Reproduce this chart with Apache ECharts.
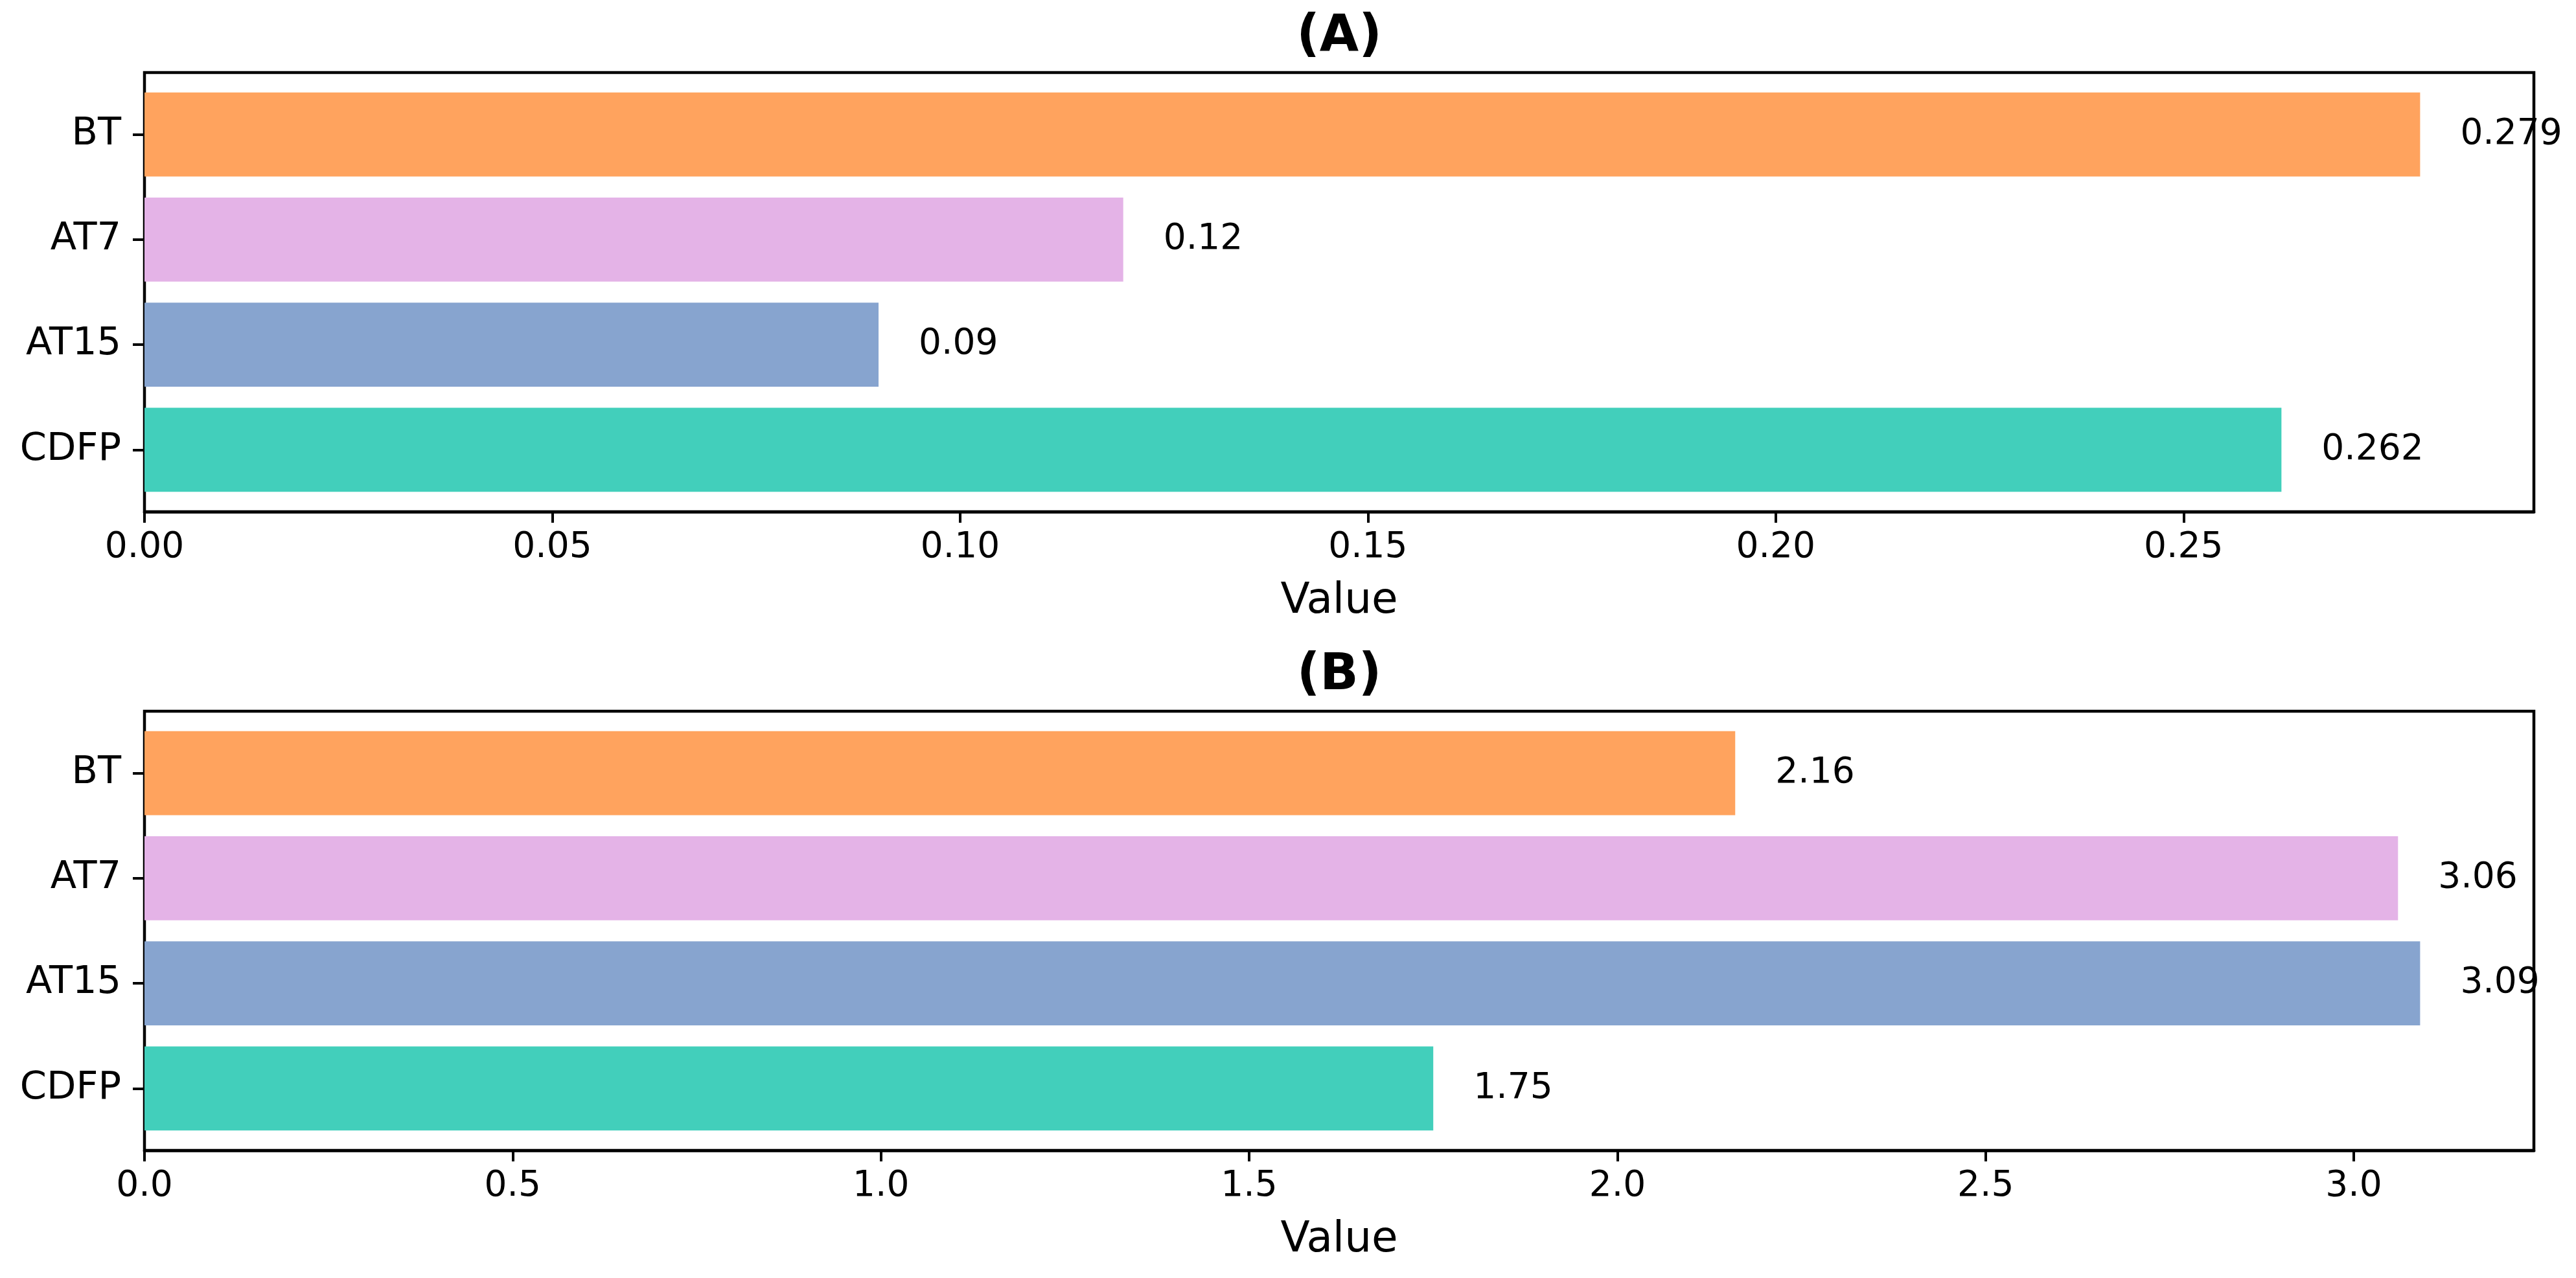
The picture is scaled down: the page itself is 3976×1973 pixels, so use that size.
<!DOCTYPE html>
<html>
<head>
<meta charset="utf-8">
<script src="https://cdn.jsdelivr.net/npm/echarts@6/dist/echarts.min.js"></script>
<style>
html,body{margin:0;padding:0;background:#fff;}
#chart{width:3976px;height:1973px;}
</style>
</head>
<body>
<div id="chart"></div>
<script>
// ---- data ----
const categories = ['BT', 'AT7', 'AT15', 'CDFP'];
const valuesA = [0.279, 0.12, 0.09, 0.262];
const valuesB = [2.16, 3.06, 3.09, 1.75];
const ticksA = [0, 0.05, 0.10, 0.15, 0.20, 0.25];
const ticksB = [0, 0.5, 1.0, 1.5, 2.0, 2.5, 3.0];
const titles = ['(A)', '(B)'];
const colors = ['#FFA35E', '#E4B3E7', '#87A4CF', '#42CFBB'];

// ---- layout ----
const FONT = 'DejaVu Sans';
const L = 223, W = 3688;
const frameH = 678;
const tops = [112, 1098];
const inset = 14.6;
const maxA = Math.max(...valuesA) * 1.05;
const maxB = Math.max(...valuesB) * 1.05;
const maxes = [maxA, maxB];
const ticks = [ticksA, ticksB];
const decimals = [2, 1];
const vals = [valuesA, valuesB];

const grid = [], xAxis = [], yAxis = [], series = [], graphic = [];
for (let p = 0; p < 2; p++) {
  const top = tops[p];
  // frame grid
  grid.push({left: L, width: W, top: top, height: frameH, show: true,
    borderColor: '#000', borderWidth: 4.5, backgroundColor: 'transparent', containLabel: false});
  // data grid
  grid.push({left: L, width: W, top: top + inset, height: frameH - 2 * inset, show: false, containLabel: false});
  const gi = p * 2;
  xAxis.push({
    type: 'value', gridIndex: gi, min: 0, max: maxes[p],
    splitLine: {show: false},
    axisLine: {show: true, onZero: false, lineStyle: {color: '#000', width: 4.5}},
    axisTick: {show: true, length: 17, lineStyle: {color: '#000', width: 4}, customValues: ticks[p]},
    axisLabel: {show: true, margin: 28, fontFamily: FONT, fontSize: 55, color: '#000',
      customValues: ticks[p], formatter: v => v.toFixed(decimals[p])},
    name: 'Value', nameLocation: 'middle', nameGap: 106,
    nameTextStyle: {fontFamily: FONT, fontSize: 66, color: '#000'}
  });
  xAxis.push({type: 'value', gridIndex: gi + 1, min: 0, max: maxes[p], show: false});
  yAxis.push({type: 'value', gridIndex: gi, min: 0, max: 1, show: false});
  yAxis.push({
    type: 'category', gridIndex: gi + 1, data: categories, inverse: true,
    axisLine: {show: false},
    axisTick: {show: true, alignWithLabel: true, length: 18, lineStyle: {color: '#000', width: 4}},
    axisLabel: {fontFamily: FONT, fontSize: 59, color: '#000', margin: 36},
    splitLine: {show: false}
  });
  series.push({
    type: 'bar', xAxisIndex: gi + 1, yAxisIndex: gi + 1, barWidth: '80%',
    data: vals[p].map((v, i) => ({value: v, itemStyle: {color: colors[i]}})),
    label: {show: true, position: 'right', distance: 62, fontFamily: FONT, fontSize: 55, color: '#000',
      formatter: d => String(d.value)},
    animation: false
  });
  graphic.push({
    type: 'text', x: L + W / 2, y: [58, 1044][p],
    style: {text: titles[p], fontFamily: FONT, fontWeight: 'bold', fontSize: 78, fill: '#000',
      textAlign: 'center', textVerticalAlign: 'middle'}
  });
}

const chart = echarts.init(document.getElementById('chart'), null, {renderer: 'canvas'});
chart.setOption({animation: false, backgroundColor: '#fff', grid, xAxis, yAxis, series, graphic});
</script>
</body>
</html>
